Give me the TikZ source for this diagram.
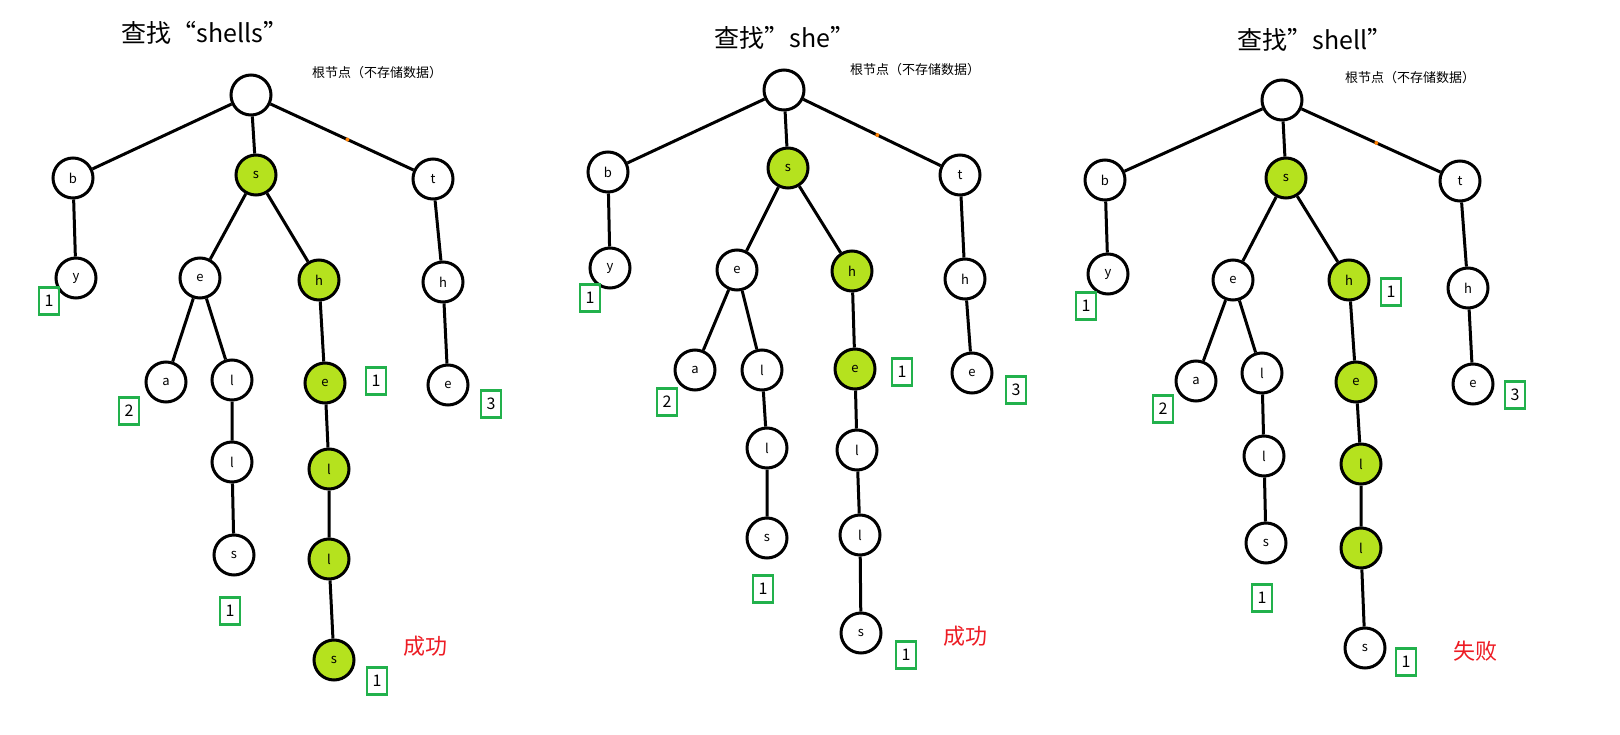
\documentclass[tikz,border=0pt]{standalone}
\usepackage{fontspec}
\setmainfont{Noto Sans CJK SC}
\usetikzlibrary{calc}
\newcommand{\sq}{\symbol{34}}
\begin{document}
\begin{tikzpicture}[x=1pt,y=-1pt,
  nd/.style={circle,draw=black,line width=3pt,minimum size=40pt,inner sep=0pt,font=\fontsize{13}{14}\selectfont,fill=white},
  gn/.style={nd,fill=leaf},
  cnt/.style={draw=boxg,line width=2.5pt,minimum width=20pt,minimum height=27pt,inner sep=0pt,font=\fontsize{16}{17}\selectfont},
  ttl/.style={font=\fontsize{25}{27}\selectfont},
  lbl/.style={font=\fontsize{13}{14}\selectfont},
  res/.style={font=\fontsize{22}{23}\selectfont,text=resred},
  ed/.style={line width=3pt}]
\definecolor{leaf}{RGB}{181,226,30}
\definecolor{boxg}{RGB}{34,177,76}
\definecolor{resred}{RGB}{237,28,36}
\useasboundingbox (0,0) rectangle (1620,735);
% ---------- tree 1
\node[ttl] (t1) at (205,33) {查找“shells”};
\node[lbl] (l1) at (377,73) {根节点（不存储数据）};
\node[nd] (ar) at (251,95) {};
\node[nd] (ab) at (73,178) {b};
\node[gn] (as) at (256,175) {s};
\node[nd] (at) at (433,179) {t};
\node[nd] (ay) at (76,278) {y};
\node[nd] (ae) at (200,278) {e};
\node[gn] (ah) at (319,280) {h};
\node[nd] (ath) at (443,282) {h};
\node[nd] (aa) at (166,382) {a};
\node[nd] (al) at (232,380) {l};
\node[gn] (ahe) at (325,383) {e};
\node[nd] (ate) at (448,385) {e};
\node[nd] (all) at (232,462) {l};
\node[gn] (ahl) at (329,469) {l};
\node[nd] (als) at (234,555) {s};
\node[gn] (ahll) at (329,559) {l};
\node[gn] (ahs) at (334,660) {s};
\node[cnt] (ac1) at (49,301) {1};
\node[cnt] (ac2) at (129,411) {2};
\node[cnt] (ac3) at (376,381) {1};
\node[cnt] (ac4) at (491,404) {3};
\node[cnt] (ac5) at (230,611) {1};
\node[cnt] (ac6) at (377,681) {1};
\node[res] (ar1) at (425,646) {成功};
\draw[ed] (ar)--(ab) (ar)--(as) (ar)--(at) (ab)--(ay) (as)--(ae) (as)--(ah) (at)--(ath)
 (ae)--(aa) (ae)--(al) (ah)--(ahe) (ath)--(ate) (al)--(all) (ahe)--(ahl) (all)--(als) (ahl)--(ahll) (ahll)--(ahs);
\fill[orange] ($(ar)!0.53!(at)$) circle (2pt);
% ---------- tree 2
\node[ttl] (t2) at (785,38) {查找\sq she\sq};
\node[lbl] (l2) at (915,70) {根节点（不存储数据）};
\node[nd] (br) at (784,90) {};
\node[nd] (bb) at (608,172) {b};
\node[gn] (bs) at (788,168) {s};
\node[nd] (bt) at (960,175) {t};
\node[nd] (by) at (610,268) {y};
\node[nd] (be) at (737,270) {e};
\node[gn] (bh) at (852,271) {h};
\node[nd] (bth) at (965,279) {h};
\node[nd] (ba) at (695,370) {a};
\node[nd] (bl) at (762,370) {l};
\node[gn] (bhe) at (855,369) {e};
\node[nd] (bte) at (972,373) {e};
\node[nd] (bll) at (767,448) {l};
\node[nd] (bhl) at (857,450) {l};
\node[nd] (bls) at (767,538) {s};
\node[nd] (bhll) at (860,535) {l};
\node[nd] (bhs) at (861,633) {s};
\node[cnt] (bc1) at (590,298) {1};
\node[cnt] (bc2) at (667,402) {2};
\node[cnt] (bc3) at (902,372) {1};
\node[cnt] (bc4) at (1016,390) {3};
\node[cnt] (bc5) at (763,589) {1};
\node[cnt] (bc6) at (906,655) {1};
\node[res] (br1) at (965,636) {成功};
\draw[ed] (br)--(bb) (br)--(bs) (br)--(bt) (bb)--(by) (bs)--(be) (bs)--(bh) (bt)--(bth)
 (be)--(ba) (be)--(bl) (bh)--(bhe) (bth)--(bte) (bl)--(bll) (bhe)--(bhl) (bll)--(bls) (bhl)--(bhll) (bhll)--(bhs);
\fill[orange] ($(br)!0.53!(bt)$) circle (2pt);
% ---------- tree 3
\node[ttl] (t3) at (1315,40) {查找\sq shell\sq};
\node[lbl] (l3) at (1410,78) {根节点（不存储数据）};
\node[nd] (cr) at (1282,100) {};
\node[nd] (cb) at (1105,180) {b};
\node[gn] (cs) at (1286,178) {s};
\node[nd] (ct) at (1460,181) {t};
\node[nd] (cy) at (1108,274) {y};
\node[nd] (ce) at (1233,280) {e};
\node[gn] (ch) at (1349,280) {h};
\node[nd] (cth) at (1468,288) {h};
\node[nd] (ca) at (1196,381) {a};
\node[nd] (cl) at (1262,373) {l};
\node[gn] (che) at (1356,382) {e};
\node[nd] (cte) at (1473,384) {e};
\node[nd] (cll) at (1264,456) {l};
\node[gn] (chl) at (1361,464) {l};
\node[nd] (cls) at (1266,543) {s};
\node[gn] (chll) at (1361,548) {l};
\node[nd] (chs) at (1365,648) {s};
\node[cnt] (cc1) at (1086,306) {1};
\node[cnt] (cc2) at (1163,409) {2};
\node[cnt] (cc3) at (1391,292) {1};
\node[cnt] (cc4) at (1515,395) {3};
\node[cnt] (cc5) at (1262,598) {1};
\node[cnt] (cc6) at (1406,662) {1};
\node[res] (cr1) at (1475,651) {失败};
\draw[ed] (cr)--(cb) (cr)--(cs) (cr)--(ct) (cb)--(cy) (cs)--(ce) (cs)--(ch) (ct)--(cth)
 (ce)--(ca) (ce)--(cl) (ch)--(che) (cth)--(cte) (cl)--(cll) (che)--(chl) (cll)--(cls) (chl)--(chll) (chll)--(chs);
\fill[orange] ($(cr)!0.53!(ct)$) circle (2pt);
\end{tikzpicture}
\end{document}
